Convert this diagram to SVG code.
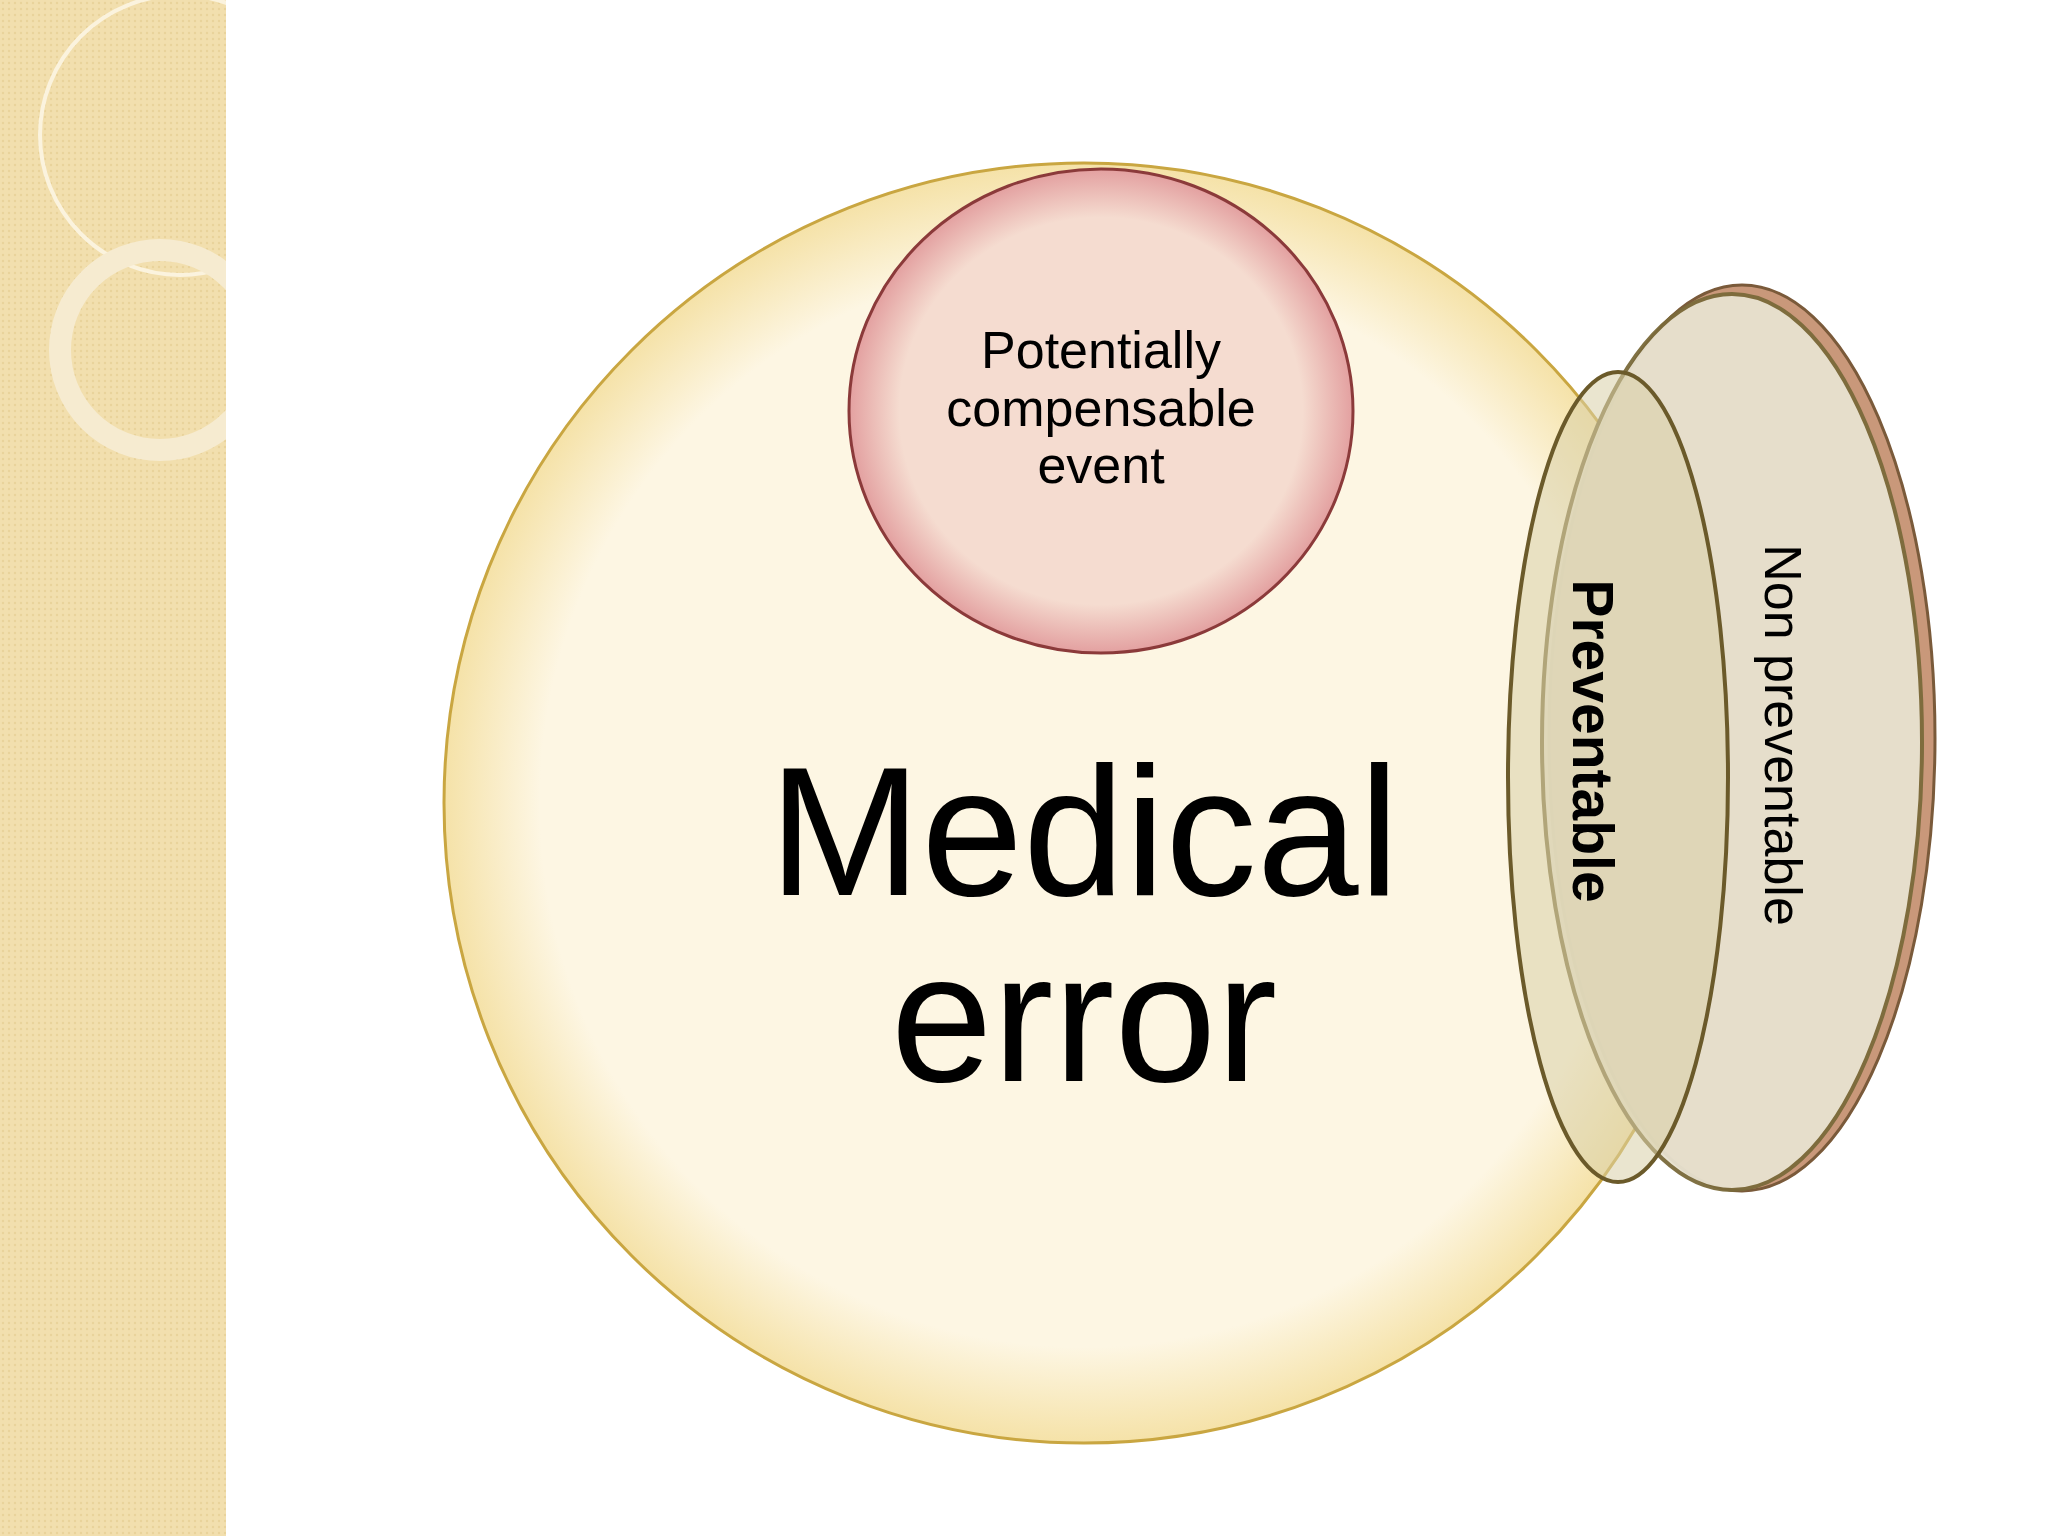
<svg xmlns="http://www.w3.org/2000/svg" width="2048" height="1536" viewBox="0 0 2048 1536">
<defs>
<radialGradient id="gBig" cx="0.5" cy="0.5" r="0.5"><stop offset="0.85" stop-color="#fdf6e3"/><stop offset="1" stop-color="#f5e2a8"/></radialGradient>
<radialGradient id="gRed" cx="0.5" cy="0.5" r="0.5"><stop offset="0.8" stop-color="#f5dcd0"/><stop offset="1" stop-color="#e3a0a0"/></radialGradient>
<pattern id="dots" width="6" height="6" patternUnits="userSpaceOnUse"><rect width="6" height="6" fill="#f2dfae"/><circle cx="3" cy="3" r="1.2" fill="#e9d39b"/></pattern>
<clipPath id="strip"><rect x="0" y="0" width="226" height="1536"/></clipPath>
</defs>
<style>
text{font-family:"Liberation Sans",Arial,sans-serif;fill:#000}
</style>
<rect width="2048" height="1536" fill="#ffffff"/>
<g id="strip-bg" clip-path="url(#strip)">
<rect x="0" y="0" width="226" height="1536" fill="url(#dots)"/>
<circle cx="180" cy="135" r="140" fill="none" stroke="#fbf3de" stroke-width="4"/>
<circle cx="160" cy="350" r="100" fill="none" stroke="#f6ebd0" stroke-width="22"/>
</g>
<g id="medical-error">
<circle cx="1084" cy="803" r="640" fill="url(#gBig)" stroke="#c9a641" stroke-width="3"/>
<text x="1084" y="895" font-size="183" text-anchor="middle">Medical</text>
<text x="1084" y="1081" font-size="183" text-anchor="middle">error</text>
</g>
<g id="potentially-compensable">
<ellipse cx="1101" cy="411" rx="252" ry="242" fill="url(#gRed)" stroke="#8b3a3a" stroke-width="3"/>
<text x="1101" y="368" font-size="52" text-anchor="middle">Potentially</text>
<text x="1101" y="426" font-size="52" text-anchor="middle">compensable</text>
<text x="1101" y="483" font-size="52" text-anchor="middle">event</text>
</g>
<g id="non-preventable">
<ellipse cx="1742" cy="738" rx="193" ry="453" fill="#c9987a" stroke="#7a5a3a" stroke-width="3"/>
<ellipse cx="1732" cy="742" rx="190" ry="448" fill="#e8e2d0" stroke="#7a6a3a" stroke-width="4" opacity="0.95"/>
<text transform="translate(1765,735) rotate(90)" font-size="52" text-anchor="middle">Non preventable</text>
</g>
<g id="preventable">
<ellipse cx="1618" cy="777" rx="110" ry="405" fill="#d8cfa8" fill-opacity="0.55" stroke="#6b5a2a" stroke-width="4"/>
<text transform="translate(1573,741) rotate(90)" font-size="57" font-weight="bold" text-anchor="middle">Preventable</text>
</g>
<g id="connectors"/>
</svg>
